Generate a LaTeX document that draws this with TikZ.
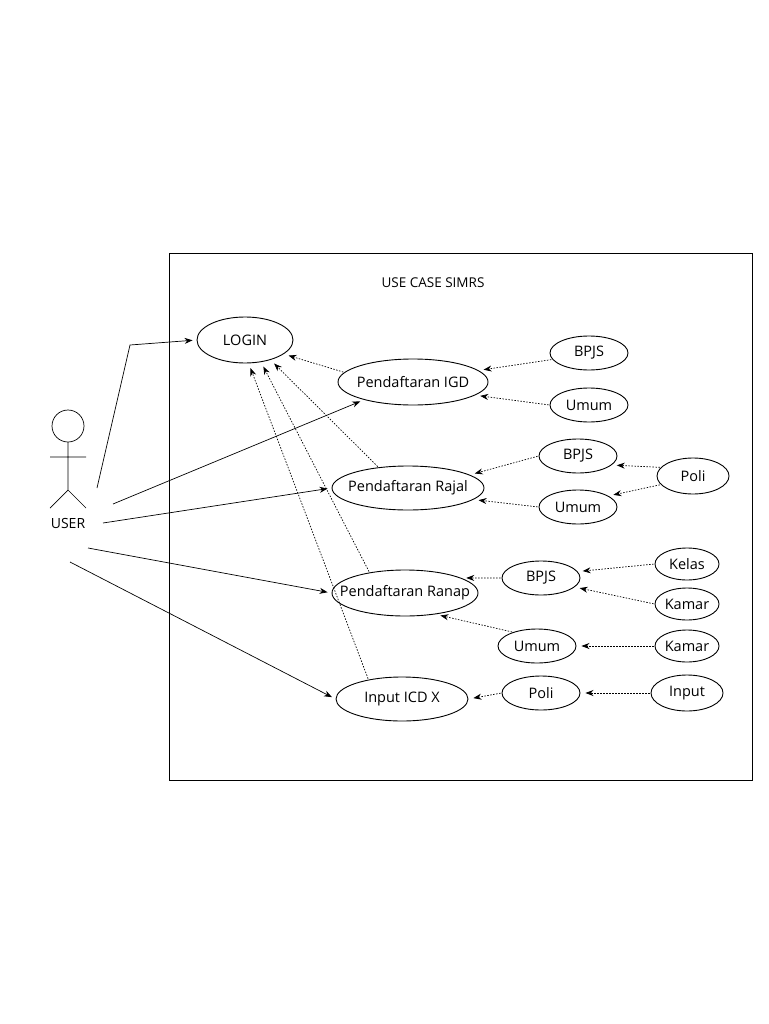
\documentclass[tikz,border=0pt]{standalone}
\usepackage{fontspec}
\setmainfont{Open Sans}
\usetikzlibrary{shapes.geometric,arrows.meta}
\begin{document}
\begin{tikzpicture}[x=1pt,y=-1pt,
  uc/.style={ellipse,draw,line width=0.9pt,inner xsep=-14pt,inner ysep=-4pt,font=\fontsize{14.5}{16}\selectfont},
  solid arr/.style={line width=0.7pt,-{Stealth[length=8pt,width=6pt]},shorten >=4pt},
  dot arr/.style={line width=0.7pt,dash pattern=on 1.5pt off 1.5pt,-{Stealth[length=8pt,width=6pt]},shorten >=5pt,shorten <=1pt}]
\useasboundingbox (0,0) rectangle (768,1024);
\draw[line width=0.7pt] (169,253) rectangle (752,780);
\node[font=\fontsize{13.5}{15}\selectfont] (title) at (433,283) {USE CASE SIMRS};
% actor
\draw[line width=0.7pt] (68,426) circle (16);
\draw[line width=0.7pt] (68,442) -- (68,490) (50,457) -- (86,457) (68,490) -- (50,508) (68,490) -- (86,508);
\node[font=\fontsize{14}{15}\selectfont] (user) at (68,523) {USER};
\coordinate (a1) at (97,488);
\coordinate (a2) at (113,504);
\coordinate (a3) at (103,523);
\coordinate (a4) at (88,548);
\coordinate (a5) at (70,562);
\coordinate (bend) at (130,345);
% use cases
\node[uc,minimum width=96,minimum height=46] (login) at (245,340) {LOGIN};
\node[uc,minimum width=150,minimum height=46] (igd) at (413,382) {Pendaftaran IGD};
\node[uc,minimum width=152,minimum height=44] (rajal) at (408,488) {Pendaftaran Rajal};
\node[uc,minimum width=146,minimum height=46] (ranap) at (405,593) {Pendaftaran Ranap};
\node[uc,minimum width=132,minimum height=44] (icd) at (402,699) {Input ICD X};
\node[uc,minimum width=78,minimum height=34] (bpjs1) at (589,353) {BPJS};
\node[uc,minimum width=78,minimum height=34] (umum1) at (589,405) {Umum};
\node[uc,minimum width=78,minimum height=34] (bpjs2) at (578,456) {BPJS};
\node[uc,minimum width=78,minimum height=34] (umum2) at (578,507) {Umum};
\node[uc,minimum width=72,minimum height=36] (poli1) at (693,476) {Poli};
\node[uc,minimum width=78,minimum height=34] (bpjs3) at (541,578) {BPJS};
\node[uc,minimum width=64,minimum height=32] (kelas) at (687,564) {Kelas};
\node[uc,minimum width=64,minimum height=32] (kamar1) at (687,604) {Kamar};
\node[uc,minimum width=78,minimum height=34] (umum3) at (537,646) {Umum};
\node[uc,minimum width=64,minimum height=32] (kamar2) at (687,646) {Kamar};
\node[uc,minimum width=78,minimum height=34] (poli2) at (541,693) {Poli};
\node[uc,minimum width=72,minimum height=36] (input) at (687,693) {Input};
% actor associations
\draw[solid arr] (a1) -- (bend) -- (login.west);
\draw[solid arr] (a2) -- (igd.200);
\draw[solid arr] (a3) -- (rajal.west);
\draw[solid arr] (a4) -- (ranap.west);
\draw[solid arr] (a5) -- (icd.west);
% to login
\draw[dot arr] (igd.172) -- (login.-20);
\draw[dot arr] (rajal.145) -- (login.-38);
\draw[dot arr] (ranap.150) -- (login.-54);
\draw[dot arr] (icd.150) -- (login.-81);
% extensions
\draw[dot arr] (bpjs1.190) -- (igd.10);
\draw[dot arr] (umum1.west) -- (igd.-12);
\draw[dot arr] (bpjs2.west) -- (rajal.12);
\draw[dot arr] (umum2.west) -- (rajal.-10);
\draw[dot arr] (poli1.165) -- (bpjs2.-15);
\draw[dot arr] (poli1.195) -- (umum2.20);
\draw[dot arr] (bpjs3.west) -- (ranap.15);
\draw[dot arr] (umum3.150) -- (ranap.-35);
\draw[dot arr] (kelas.west) -- (bpjs3.10);
\draw[dot arr] (kamar1.west) -- (bpjs3.-15);
\draw[dot arr] (kamar2.west) -- (umum3.east);
\draw[dot arr] (input.west) -- (poli2.east);
\draw[dot arr] (poli2.west) -- (icd.east);
\end{tikzpicture}
\end{document}
